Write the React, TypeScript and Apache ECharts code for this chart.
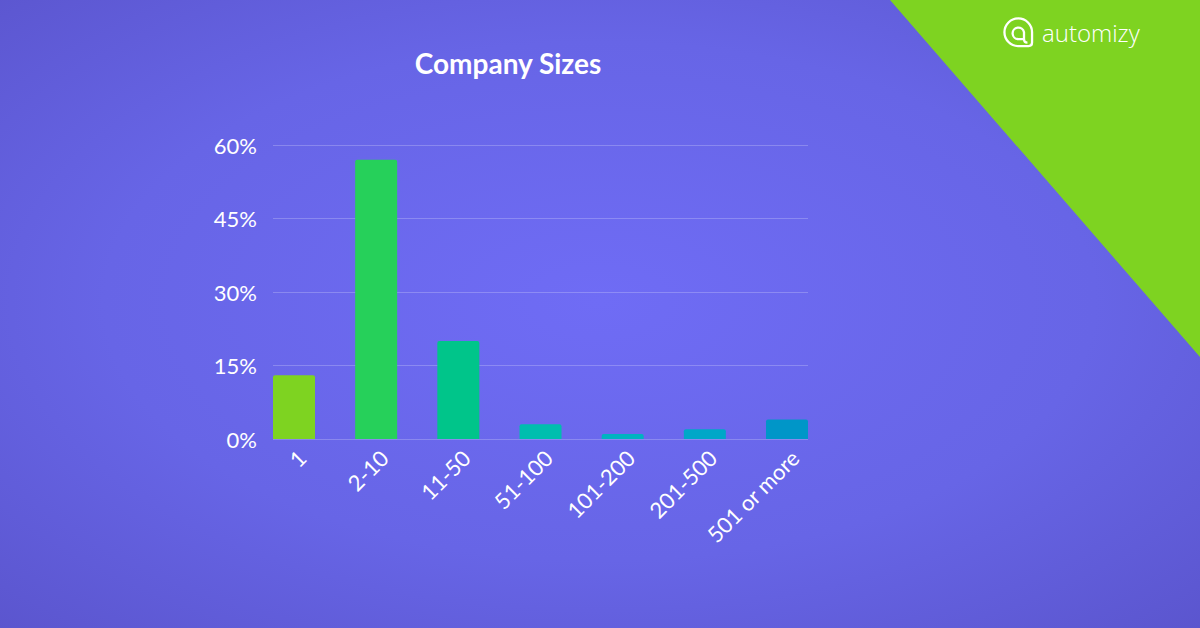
import React, { useEffect, useRef } from 'react';
import * as echarts from 'echarts';

const categories = ['1', '2-10', '11-50', '51-100', '101-200', '201-500', '501 or more'];
const values = [13, 57, 20, 3, 1, 2, 4];
const barColors = ['#7ED321', '#26D05A', '#00C58A', '#00BEAE', '#00B3C0', '#00A7C8', '#0096C8'];
const yMin = 0;
const yMax = 60;
const yStep = 15;
const titleText = 'Company Sizes';
const brandText = 'automizy';

const logoPath =
  'M15 27 A12 12 0 1 1 27 15 L27 24 Q27 27 24 27 Z M20 21 L20 15 A5 5 0 1 0 15 21 L20 21 Q20 24 23 24';

export default function App() {
  const ref = useRef<HTMLDivElement>(null);
  useEffect(() => {
    document.body.style.margin = '0';
    try {
      echarts.graphic.registerShape('logo', echarts.graphic.extendPath(logoPath, {}));
    } catch (e) {}
    const chart = echarts.init(ref.current!, null, { renderer: 'svg' });
    const font = 'Lato';
    chart.setOption({
      animation: false,
      textStyle: { fontFamily: font },
      graphic: [
        {
          type: 'rect',
          z: -100,
          shape: { x: 0, y: 0, width: 1200, height: 628 },
          style: {
            fill: new echarts.graphic.RadialGradient(0.5, 0.48, 0.75, [
              { offset: 0, color: '#6F6CF5' },
              { offset: 0.55, color: '#6765E6' },
              { offset: 1, color: '#5A54CC' },
            ]),
          },
        },
        {
          type: 'polygon',
          z: -90,
          shape: { points: [[890, 0], [1200, 0], [1200, 357]] },
          style: { fill: '#7ED321' },
        },
        {
          type: 'logo',
          x: 1001,
          y: 15,
          scaleX: 1.15,
          scaleY: 1.15,
          z: 10,
          style: { fill: 'none', stroke: '#ffffff', lineWidth: 2 },
        },
        {
          type: 'text',
          x: 1042,
          y: 32,
          z: 10,
          style: {
            text: brandText,
            fill: '#ffffff',
            font: '300 24px "Open Sans"',
            textVerticalAlign: 'middle',
          },
        },
        {
          type: 'text',
          x: 508,
          y: 63,
          z: 10,
          style: {
            text: titleText,
            fill: '#ffffff',
            font: 'bold 28px Lato',
            textAlign: 'center',
            textVerticalAlign: 'middle',
          },
        },
      ],
      grid: [
        { left: 273, right: 392, top: 145, bottom: 189 },
        { left: 294, right: 413, top: 145, bottom: 189 },
        { left: 302, right: 405, top: 145, bottom: 189 },
      ],
      xAxis: [
        { gridIndex: 0, type: 'value', show: false, min: 0, max: 1 },
        {
          gridIndex: 1,
          type: 'category',
          data: categories,
          boundaryGap: false,
          show: false,
        },
        {
          gridIndex: 2,
          type: 'category',
          data: categories,
          boundaryGap: false,
          axisLine: { show: false },
          axisTick: { show: false },
          axisLabel: {
            rotate: 45,
            margin: 15,
            color: '#ffffff',
            fontSize: 22,
            fontFamily: font,
            interval: 0,
          },
        },
      ],
      yAxis: [
        {
          gridIndex: 0,
          type: 'value',
          min: yMin,
          max: yMax,
          interval: yStep,
          axisLine: { show: false },
          axisTick: { show: false },
          splitLine: { lineStyle: { color: 'rgba(255,255,255,0.22)', width: 1 } },
          axisLabel: {
            formatter: '{value}%',
            color: '#ffffff',
            fontSize: 22,
            fontFamily: font,
            margin: 16,
          },
        },
        {
          gridIndex: 1,
          type: 'value',
          min: yMin,
          max: yMax,
          interval: yStep,
          show: false,
          splitLine: { show: false },
        },
        {
          gridIndex: 2,
          type: 'value',
          min: yMin,
          max: yMax,
          interval: yStep,
          show: false,
          splitLine: { show: false },
        },
      ],
      series: [
        {
          type: 'bar',
          xAxisIndex: 1,
          yAxisIndex: 1,
          barWidth: 42,
          data: values.map((v, i) => ({
            value: v,
            itemStyle: { color: barColors[i], borderRadius: [2, 2, 0, 0] },
          })),
        },
      ],
    });
    return () => chart.dispose();
  }, []);
  return <div ref={ref} style={{ position: 'absolute', left: 0, top: 0, width: 1200, height: 628 }} />;
}
